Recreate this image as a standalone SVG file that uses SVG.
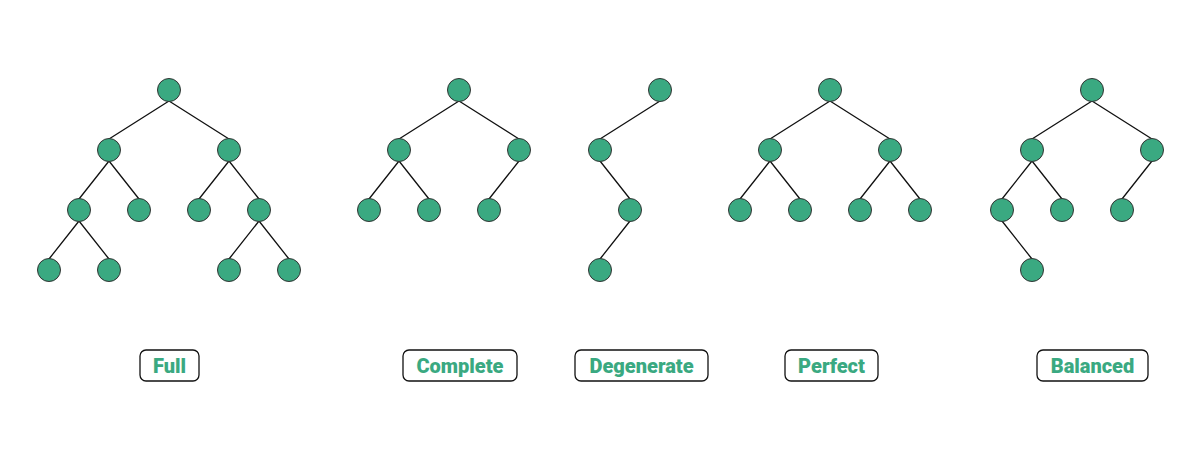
<svg xmlns="http://www.w3.org/2000/svg" width="1200" height="450" viewBox="0 0 1200 450">
<style>
.n{fill:#3aa981;stroke:#333;stroke-width:1}
.e{stroke:#111;stroke-width:1.3;fill:none}
.b{fill:#fff;stroke:#111;stroke-width:1.3}
.t{font-family:Roboto,"Liberation Sans",sans-serif;font-weight:900;font-size:20px;fill:#3aa981;text-anchor:middle}
</style>
<rect width="1200" height="450" fill="#fff"/>
<g id="connectors">
<path class="e" d="M169 101L109 139M169 101L229 139M109 161L79 199M109 161L139 199M229 161L199 199M229 161L259 199M79 221L49 259M79 221L109 259M259 221L229 259M259 221L289 259"/>
<path class="e" d="M459 101L399 139M459 101L519 139M399 161L369 199M399 161L429 199M519 161L489 199"/>
<path class="e" d="M660 101L600 139M600 161L630 199M630 221L600 259"/>
<path class="e" d="M830 101L770 139M830 101L890 139M770 161L740 199M770 161L800 199M890 161L860 199M890 161L920 199"/>
<path class="e" d="M1092 101L1032 139M1092 101L1152 139M1032 161L1002 199M1032 161L1062 199M1152 161L1122 199M1002 221L1032 259"/>
</g>
<g id="full">
<circle class="n" cx="169" cy="90" r="11.5"/><circle class="n" cx="109" cy="150" r="11.5"/><circle class="n" cx="229" cy="150" r="11.5"/>
<circle class="n" cx="79" cy="210" r="11.5"/><circle class="n" cx="139" cy="210" r="11.5"/><circle class="n" cx="199" cy="210" r="11.5"/><circle class="n" cx="259" cy="210" r="11.5"/>
<circle class="n" cx="49" cy="270" r="11.5"/><circle class="n" cx="109" cy="270" r="11.5"/><circle class="n" cx="229" cy="270" r="11.5"/><circle class="n" cx="289" cy="270" r="11.5"/>
<rect class="b" x="140" y="350" width="59" height="31" rx="6"/><text class="t" x="169.5" y="373">Full</text>
</g>
<g id="complete">
<circle class="n" cx="459" cy="90" r="11.5"/><circle class="n" cx="399" cy="150" r="11.5"/><circle class="n" cx="519" cy="150" r="11.5"/>
<circle class="n" cx="369" cy="210" r="11.5"/><circle class="n" cx="429" cy="210" r="11.5"/><circle class="n" cx="489" cy="210" r="11.5"/>
<rect class="b" x="403" y="350" width="114" height="31" rx="6"/><text class="t" x="460" y="373">Complete</text>
</g>
<g id="degenerate">
<circle class="n" cx="660" cy="90" r="11.5"/><circle class="n" cx="600" cy="150" r="11.5"/><circle class="n" cx="630" cy="210" r="11.5"/><circle class="n" cx="600" cy="270" r="11.5"/>
<rect class="b" x="575" y="350" width="133" height="31" rx="6"/><text class="t" x="641.5" y="373">Degenerate</text>
</g>
<g id="perfect">
<circle class="n" cx="830" cy="90" r="11.5"/><circle class="n" cx="770" cy="150" r="11.5"/><circle class="n" cx="890" cy="150" r="11.5"/>
<circle class="n" cx="740" cy="210" r="11.5"/><circle class="n" cx="800" cy="210" r="11.5"/><circle class="n" cx="860" cy="210" r="11.5"/><circle class="n" cx="920" cy="210" r="11.5"/>
<rect class="b" x="785" y="350" width="93" height="31" rx="6"/><text class="t" x="831.5" y="373">Perfect</text>
</g>
<g id="balanced">
<circle class="n" cx="1092" cy="90" r="11.5"/><circle class="n" cx="1032" cy="150" r="11.5"/><circle class="n" cx="1152" cy="150" r="11.5"/>
<circle class="n" cx="1002" cy="210" r="11.5"/><circle class="n" cx="1062" cy="210" r="11.5"/><circle class="n" cx="1122" cy="210" r="11.5"/><circle class="n" cx="1032" cy="270" r="11.5"/>
<rect class="b" x="1037" y="350" width="111" height="31" rx="6"/><text class="t" x="1092.5" y="373">Balanced</text>
</g>
</svg>
